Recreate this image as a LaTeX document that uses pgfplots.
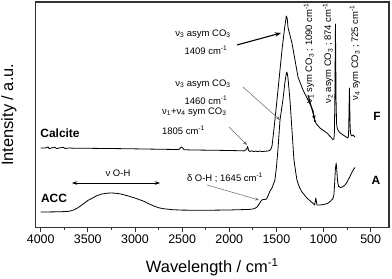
\documentclass[border=0pt]{standalone}
\usepackage{fontspec}
\setmainfont{Liberation Sans}
\usepackage{pgfplots}
\pgfplotsset{compat=1.18}
\usetikzlibrary{arrows.meta}
\begin{document}
\begin{tikzpicture}
\begin{axis}[
  at={(35.5bp,51.5bp)}, anchor=south west,
  scale only axis, width=353.5bp, height=225.5bp,
  x dir=reverse, xmin=306, xmax=4055, ymin=0, ymax=225.5,
  xtick={500,1000,...,4000}, minor x tick num=1,
  ytick=\empty, xtick pos=left, tick align=outside,
  major tick length=4bp, minor tick length=2.5bp,
  axis line style={line width=1.1bp, draw=black!80},
  every tick/.style={black!80, line width=0.8bp},
  ticklabel style={font=\fontsize{12.5}{14}\selectfont},
  /pgf/number format/assume math mode=true,
  /pgf/number format/1000 sep={},
  xlabel={Wavelength / cm\textsuperscript{-1}},
  ylabel={Intensity / a.u.},
  xlabel style={font=\fontsize{16.5}{19}\selectfont, at={(axis description cs:0.5,-0.175)}, anchor=center},
  ylabel style={font=\fontsize{16.5}{19}\selectfont, at={(axis description cs:-0.075,0.5)}, anchor=center},
]
% Calcite (F)
\addplot[black, no markers, line width=0.8bp, line join=round] coordinates {
(4000,79.5)(3950,79.6)(3920,80.5)(3910,78.8)(3880,79.7)(3850,80.3)(3830,78.9)(3800,79.6)(3760,80.2)(3740,79.0)(3700,79.5)(3650,79.3)
(3500,79.2)(3300,79.0)(3100,78.8)(2900,78.5)(2700,78.2)(2560,78.0)(2530,78.2)(2510,80.5)(2495,79.5)(2480,77.8)(2400,77.5)
(2200,77.3)(2000,77.0)(1900,76.8)(1840,76.6)(1815,78.5)(1805,81.0)(1795,77.0)(1780,76.0)(1760,76.8)(1740,75.8)(1720,76.5)
(1700,75.9)(1680,76.4)(1650,76.0)(1620,76.2)(1590,76.5)(1570,77)(1555,79)(1546,82)(1530,95)(1516,107.5)(1494,127.5)
(1470,150)(1441,177.5)(1415,198)(1395,211.5)(1385,209)(1377,200)(1335,184.5)(1303,167.5)(1271,150.5)(1218,137.5)
(1165,127.5)(1112,117)(1095,106)(1088,107)(1080,104)(1038,99.5)(964,94.5)(900,88)(890,88.5)(885,95)(880,130)(876,180)
(874,203.5)(871,170)(867,125)(862,104)(855,99)(847,97.5)(830,95)(800,93)(760,90.5)(741,89.5)(735,92)(730,115)(727,135)
(725,139.5)(722,120)(718,100)(712,93)(700,91.5)(688,92.5)(667,90.5)
};
% ACC (A)
\addplot[black, no markers, line width=0.8bp, line join=round] coordinates {
(4000,15.5)(3900,15.6)(3800,15.7)(3700,16.2)(3650,17.5)(3600,20)(3550,23.5)(3500,27)(3450,29.5)(3400,32)(3350,33.5)
(3300,34.3)(3250,34.5)(3200,34.2)(3150,33.5)(3100,32.3)(3000,29.5)(2900,26)(2850,23.5)(2800,21.5)(2750,19.8)(2700,18.8)
(2600,17.8)(2500,17.4)(2300,17.2)(2100,17.4)(2000,17.5)(1900,17.8)(1800,18)(1750,18.5)(1720,19.5)(1700,21)(1680,24)
(1660,27)(1645,28)(1625,28)(1605,28.5)(1590,31.5)(1570,36)(1545,40)(1516,47.5)(1500,60)(1484,77.5)(1462,107.5)
(1431,127.5)(1410,145)(1395,154)(1388,155.5)(1378,150)(1356,127.5)(1335,97.5)(1314,67.5)(1295,55)(1282,47.5)(1255,40)
(1229,35.5)(1176,29.5)(1130,25.5)(1110,24)(1095,22.5)(1082,29.5)(1070,22.5)(1040,22.5)(1000,23)(960,24)(930,26)(910,28)
(900,29)(890,33)(882,45)(875,58)(866,64.5)(858,55)(850,45)(840,41)(820,40)(800,40.5)(773,42.5)(750,45.5)(720,51)
(700,55)(680,58.5)(665,60)
};
\end{axis}
\begin{scope}[x=1bp, y=-1bp, shift={(0,279bp)}, every node/.style={inner sep=0pt}]
\def\ann{\fontsize{9.5}{11}\selectfont}
\def\big{\fontsize{12}{14}\selectfont\bfseries}
\node[font=\ann] at (203,34) {ν\textsubscript{3} asym CO\textsubscript{3}};
\node[font=\ann] at (206,50) {1409 cm\textsuperscript{-1}};
\node[font=\ann] at (203,84) {ν\textsubscript{3} asym CO\textsubscript{3}};
\node[font=\ann] at (206,100) {1460 cm\textsuperscript{-1}};
\node[font=\ann, anchor=west] at (162,112) {ν\textsubscript{1}+ν\textsubscript{4} sym CO\textsubscript{3}};
\node[font=\ann, anchor=west] at (162,130) {1805 cm\textsuperscript{-1}};
\node[font=\ann] at (225,178) {δ O-H ; 1645 cm\textsuperscript{-1}};
\node[font=\ann] at (118,173) {ν O-H};
\node[font=\ann, rotate=90, anchor=east] at (309,3) {ν\textsubscript{1} sym CO\textsubscript{3} ; 1090 cm\textsuperscript{-1}};
\node[font=\ann, rotate=90, anchor=east] at (328,3) {ν\textsubscript{2} asym CO\textsubscript{3} ; 874 cm\textsuperscript{-1}};
\node[font=\ann, rotate=90, anchor=east] at (355,5) {ν\textsubscript{4} sym CO\textsubscript{3} ; 725 cm\textsuperscript{-1}};
\node[font=\big] at (60,133) {Calcite};
\node[font=\big] at (54,198) {ACC};
\node[font=\big] at (377,116) {F};
\node[font=\big] at (376,180) {A};
\draw[line width=1.1bp, -{Stealth[length=6bp,width=4.5bp]}] (237,45) -- (281,33);
\draw[line width=1bp, -{Stealth[length=5bp,width=3.5bp]}] (308,95) -- (315,120);
\draw[black!60, line width=0.5bp, -{Stealth[length=4bp,width=3bp]}] (243,87) -- (280,120);
\draw[black!60, line width=0.5bp, -{Stealth[length=4bp,width=3bp]}] (229,127) -- (247,145);
\draw[black!60, line width=0.5bp, -{Stealth[length=4bp,width=3bp]}] (207,185) -- (259,200);
\draw[line width=0.8bp, {Stealth[length=5bp,width=3.5bp]}-{Stealth[length=5bp,width=3.5bp]}] (72,183) -- (160,183);
\end{scope}
\pgfresetboundingbox
\useasboundingbox (0,0) rectangle (392bp,279bp);
\end{tikzpicture}
\end{document}
